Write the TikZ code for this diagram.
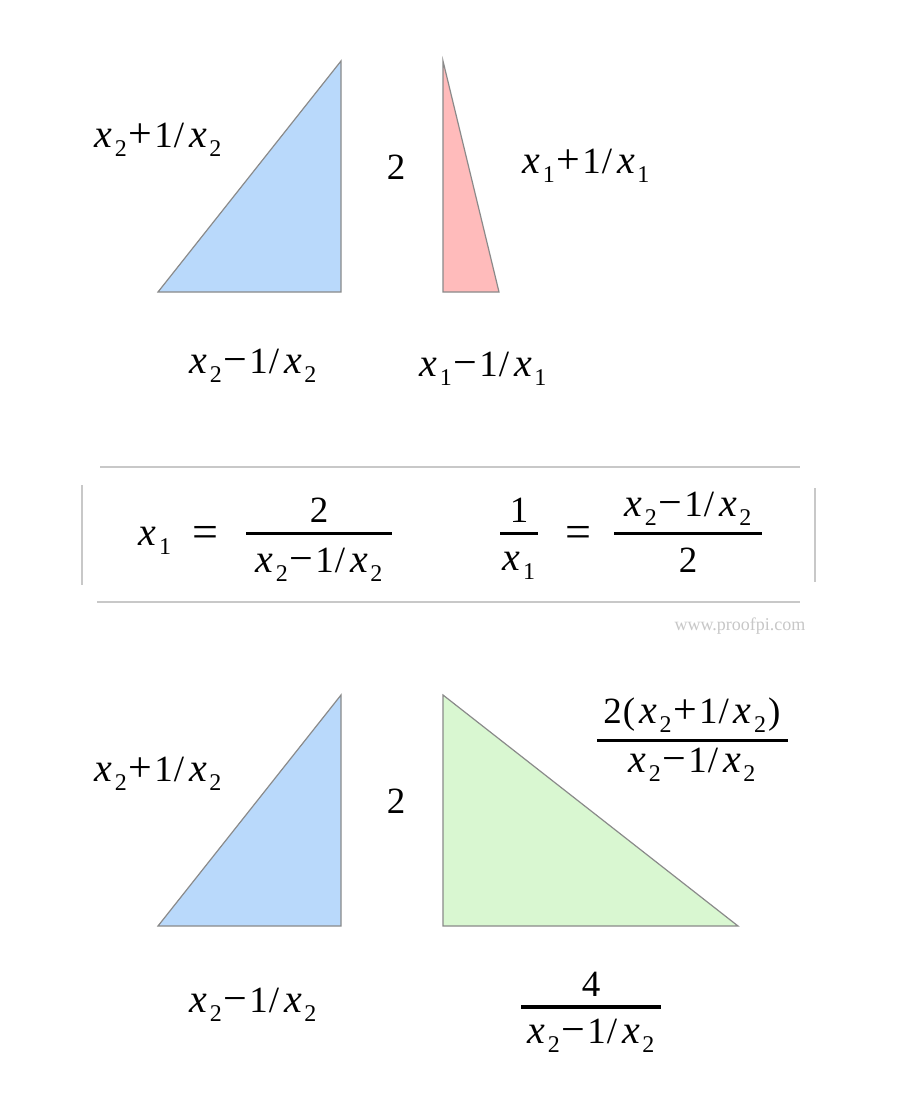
\documentclass[tikz,border=0pt]{standalone}
\usepackage{fontspec}
\setmainfont{Liberation Serif}
\newcommand\subsz{\fontsize{24}{24}\selectfont}
\newcommand\xsz{\fontsize{40}{40}\selectfont}
\newcommand\opsz{\fontsize{42}{42}\selectfont}
\newcommand\X[1]{{\xsz\textit{x}}\kern2.5pt\raisebox{-9pt}{\subsz #1}}
\newcommand\PL[1]{\X{#1}\kern2pt{\opsz+}\kern2pt1\kern1pt/\kern5pt\X{#1}}
\newcommand\MI[1]{\X{#1}\kern2pt{\opsz−}\kern2pt1\kern1pt/\kern5pt\X{#1}}
\definecolor{blueF}{HTML}{B9D9FB}
\definecolor{pinkF}{HTML}{FFBBBB}
\definecolor{greenF}{HTML}{D9F7D1}
\definecolor{edgeC}{HTML}{8A8A8A}
\definecolor{frameC}{HTML}{C8C8C8}
\begin{document}
\begin{tikzpicture}[x=1pt,y=-1pt,
  tri/.style={draw=edgeC,line width=1.2pt,line join=miter},
  lbl/.style={anchor=base,inner sep=0pt,font=\fontsize{37}{40}\selectfont},
  eqs/.style={anchor=base,inner sep=0pt,font=\fontsize{46}{46}\selectfont},
  bar/.style={line width=3.5pt,line cap=butt},
  frame/.style={draw=frameC,line width=1.2pt}]
\useasboundingbox[fill=white] (0,0) rectangle (900,1109);
% top triangles
\filldraw[tri,fill=blueF] (158,292) -- (341,292) -- (341,61) -- cycle;
\filldraw[tri,fill=pinkF] (443,61) -- (443,292) -- (499,292) -- cycle;
\node[lbl] (tl) at (158,147) {\PL{2}};
\node[lbl] (t2) at (396,179) {2};
\node[lbl] (tr) at (586,173) {\PL{1}};
\node[lbl] (bl) at (253,373) {\MI{2}};
\node[lbl] (br) at (483,376) {\MI{1}};
% frame
\draw[frame] (100,467) -- (800,467);
\draw[frame] (97,602) -- (800,602);
\draw[frame] (82,485) -- (82,585);
\draw[frame] (815,488) -- (815,582);
% formulas
\node[lbl] (fx1) at (155,545) {\X{1}};
\node[eqs] (eq1) at (205,547) {=};
\node[lbl] (n1) at (319,522) {2};
\draw[bar] (246,533.5) -- (392,533.5);
\node[lbl] (d1) at (319,572) {\MI{2}};
\node[lbl] (n2) at (519,522) {1};
\draw[bar] (500,533.5) -- (538,533.5);
\node[lbl] (d2) at (519,570) {\X{1}};
\node[eqs] (eq2) at (578,547) {=};
\node[lbl] (n3) at (688,516) {\MI{2}};
\draw[bar] (614,533.5) -- (762,533.5);
\node[lbl] (d3) at (688,572) {2};
\node[anchor=base,inner sep=0pt,text=black!22,font=\fontsize{18}{18}\selectfont] (wm) at (740,630) {www.proofpi.com};
% bottom triangles
\filldraw[tri,fill=blueF] (158,926) -- (341,926) -- (341,695) -- cycle;
\filldraw[tri,fill=greenF] (443,695) -- (443,926) -- (738,926) -- cycle;
\node[lbl] (btl) at (158,781) {\PL{2}};
\node[lbl] (bt2) at (396,813) {2};
\node[lbl] (gn) at (692,723) {2\kern1pt(\kern4pt\PL{2}\kern2pt)};
\draw[bar] (597,740.5) -- (788,740.5);
\node[lbl] (gd) at (692,772) {\MI{2}};
\node[lbl] (bbl) at (253,1012) {\MI{2}};
\node[lbl] (fn) at (591,996) {4};
\draw[bar] (521,1007) -- (661,1007);
\node[lbl] (fd) at (591,1043) {\MI{2}};
\end{tikzpicture}
\end{document}
